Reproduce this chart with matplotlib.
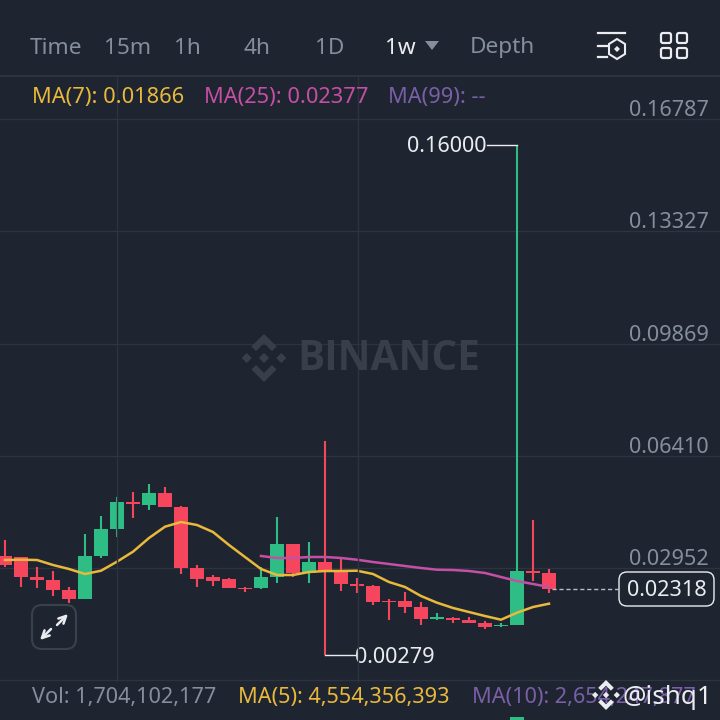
import numpy as np
import matplotlib
matplotlib.use("Agg")
import matplotlib.pyplot as plt
from matplotlib.patches import Polygon, FancyBboxPatch

# weekly candles
opens = [0.03327, 0.03296, 0.02680, 0.02588, 0.02280, 0.02003, 0.03327, 0.04159, 0.04990, 0.04898,
         0.05268, 0.04836, 0.02958, 0.02680, 0.02619, 0.02342, 0.02342, 0.02680, 0.03697, 0.02804,
         0.03142, 0.02865, 0.02465, 0.02403, 0.01941, 0.01941, 0.01756, 0.01387, 0.01418, 0.01356,
         0.01264, 0.01171, 0.01202, 0.02865, 0.02804]
highs = [0.03820, 0.03296, 0.02988, 0.02865, 0.02372, 0.04005, 0.04559, 0.05144, 0.05298, 0.05545,
         0.05452, 0.04867, 0.03050, 0.02742, 0.02650, 0.02372, 0.02988, 0.04528, 0.03697, 0.03758,
         0.06869, 0.03235, 0.02650, 0.02434, 0.02003, 0.02218, 0.01910, 0.01572, 0.01448, 0.01448,
         0.01325, 0.01264, 0.16000, 0.04436, 0.02927]
lows = [0.02988, 0.02372, 0.02342, 0.02095, 0.01879, 0.02003, 0.03266, 0.03912, 0.04498, 0.04744,
        0.04836, 0.02773, 0.02372, 0.02403, 0.02342, 0.02218, 0.02311, 0.02496, 0.02680, 0.02496,
        0.00279, 0.02249, 0.02188, 0.01818, 0.01356, 0.01572, 0.01202, 0.01356, 0.01264, 0.01264,
        0.01079, 0.01140, 0.01202, 0.02557, 0.02188]
closes = [0.03050, 0.02680, 0.02588, 0.02280, 0.02003, 0.03327, 0.04159, 0.04990, 0.04929, 0.05268,
          0.04836, 0.02958, 0.02619, 0.02557, 0.02342, 0.02311, 0.02680, 0.03697, 0.02804, 0.03142,
          0.02865, 0.02465, 0.02403, 0.01910, 0.01910, 0.01756, 0.01387, 0.01448, 0.01356, 0.01264,
          0.01140, 0.01202, 0.02865, 0.02804, 0.02311]

ma7 = [0.03204, 0.03213, 0.03204, 0.03050, 0.02927, 0.02773, 0.02874, 0.03152, 0.03460, 0.03882,
       0.04230, 0.04374, 0.04282, 0.04066, 0.03666, 0.03296, 0.02927, 0.02742, 0.02742, 0.02834,
       0.02865, 0.02865, 0.02874, 0.02773, 0.02526, 0.02372, 0.02095, 0.01889, 0.01726, 0.01602,
       0.01479, 0.01365, 0.01581, 0.01756, 0.01858]
ma25_start = 16
ma25 = [0.03327, 0.03266, 0.03266, 0.03296, 0.03296, 0.03266, 0.03213, 0.03142, 0.03081, 0.03019,
        0.02958, 0.02905, 0.02896, 0.02865, 0.02804, 0.02680, 0.02557, 0.02465, 0.02372]

price_ticks = [0.16787, 0.13327, 0.09869, 0.06410, 0.02952]
price_labels = ["0.16787", "0.13327", "0.09869", "0.06410", "0.02952"]
last_price = 0.02318
max_price = 0.16000
min_price = 0.00279

tabs = ["Time", "15m", "1h", "4h", "1D", "1w", "Depth"]
tab_x = [30, 104, 174, 243, 315, 385, 470]

BG = "#1f2530"
RED = "#f6465d"
GREEN = "#2ebd85"
YELLOW = "#e9b93c"
PINK = "#c64fa6"
PURPLE = "#7a5fa8"
GRID = "#2d333f"
GREY = "#848e9c"
LIGHT = "#eaecef"
FONT = "Noto Sans"

plt.rcParams["font.family"] = FONT

fig = plt.figure(figsize=(7.2, 7.2), dpi=100, facecolor=BG)

# price axes fill the whole figure, 16 px per candle
ax = fig.add_axes([0, 0, 1, 1], facecolor=BG)
ax.set_xlim(-5 / 16, 715 / 16)
ax.set_ylim(-0.01724, 0.20452)
ax.axis("off")

# pixel axes for the app chrome
ui = fig.add_axes([0, 0, 1, 1], facecolor="none")
ui.set_xlim(0, 720)
ui.set_ylim(720, 0)
ui.axis("off")


def logo(axes, cx, cy, r, color, z=6):
    # binance diamond mark
    for dx in (-0.72, 0, 0.72):
        s = 0.21
        axes.add_patch(Polygon([(cx + (dx - s) * r, cy), (cx + dx * r, cy - s * r),
                                (cx + (dx + s) * r, cy), (cx + dx * r, cy + s * r)],
                               fc=color, ec="none", zorder=z))
    for sign in (-1, 1):
        pts = [(0, 1), (0.52, 0.48), (0.33, 0.29), (0, 0.62), (-0.33, 0.29), (-0.52, 0.48)]
        axes.add_patch(Polygon([(cx + a * r, cy + sign * b * r) for a, b in pts],
                               fc=color, ec="none", zorder=z))


# grid
for p in price_ticks:
    ax.axhline(p, color=GRID, lw=1, zorder=1)
ax.axhline(-0.00507, color=GRID, lw=1, zorder=1)
ui.plot([0, 720], [76, 76], color=GRID, lw=1.5, zorder=1)
for x in (116.5, 357.5):
    ui.plot([x, x], [77, 681], color=GRID, lw=1, zorder=1)

# watermark
logo(ui, 264, 358, 24, "#383e4a", z=2)
ui.text(297, 360, "BINANCE", color="#383e4a", fontsize=29.2, fontweight="bold",
        va="center", ha="left", zorder=2, family="Open Sans")

# candles
idx = np.arange(len(opens))
opens_a, closes_a = np.array(opens), np.array(closes)
colors = [GREEN if c >= o else RED for o, c in zip(opens_a, closes_a)]
ax.vlines(idx, lows, highs, colors=colors, lw=1.5, zorder=3)
ax.bar(idx, np.abs(closes_a - opens_a), bottom=np.minimum(opens_a, closes_a),
       width=0.875, color=colors, lw=0, zorder=3)

# moving averages
ax.plot(idx, ma7, color=YELLOW, lw=1.8, zorder=4, solid_joinstyle="round")
ax.plot(idx[ma25_start:], ma25, color=PINK, lw=1.8, zorder=4, solid_joinstyle="round")

# last price
ax.plot([34.2, 38.3], [last_price, last_price], color="#b7bdc6", lw=1, ls=(0, (3, 2)), zorder=4)
ui.add_patch(FancyBboxPatch((619, 572), 95, 34, boxstyle="round,pad=0,rounding_size=8",
                            fc=BG, ec=LIGHT, lw=1, zorder=6))
ui.text(666.5, 591, f"{last_price:.5f}", color=LIGHT, fontsize=15.6, ha="center", va="center", zorder=7)

# high / low callouts
ax.plot([30.15, 32], [max_price, max_price], color=LIGHT, lw=1, zorder=4)
ax.annotate(f"{max_price:.5f}", (30.1, max_price), xytext=(0, -1.5), textcoords="offset points",
            color=LIGHT, fontsize=15.6, ha="right", va="center", zorder=7)
ax.plot([20, 21.85], [min_price, min_price], color=LIGHT, lw=1, zorder=4)
ax.annotate(f"{min_price:.5f}", (21.9, min_price), xytext=(0, -1.5), textcoords="offset points",
            color=LIGHT, fontsize=15.6, ha="left", va="center", zorder=7)

# price labels sit just above their gridline
for p, lab in zip(price_ticks, price_labels):
    ax.annotate(lab, (709 / 720, p), xycoords=("figure fraction", "data"), xytext=(0, -1.5),
                textcoords="offset points", color=GREY, fontsize=15.6, ha="right", va="bottom",
                zorder=5)

# tabs
for name, x in zip(tabs, tab_x):
    active = name == "1w"
    ui.text(x, 48, name, color=LIGHT if active else GREY, fontsize=16.3,
            fontweight="bold" if active else "normal", ha="left", va="center")
ui.add_patch(Polygon([(425, 41), (439, 41), (432, 50)], fc=GREY, ec="none"))

# toolbar icons
ui.plot([598, 625], [33, 33], color=LIGHT, lw=1.6)
ui.plot([598, 607], [46, 46], color=LIGHT, lw=1.6)
ui.plot([598, 607], [57, 57], color=LIGHT, lw=1.6)
ui.add_patch(Polygon([(617, 39), (625, 44), (625, 54), (617, 59), (609, 54), (609, 44)],
                     fc="none", ec=LIGHT, lw=1.5))
ui.add_patch(Polygon([(617, 46), (620, 49), (617, 52), (614, 49)], fc=LIGHT, ec="none"))
for gx in (661, 677):
    for gy in (33, 48):
        ui.add_patch(FancyBboxPatch((gx, gy), 10, 10, boxstyle="round,pad=0,rounding_size=2",
                                    fc="none", ec=LIGHT, lw=1.6))

# MA legend
ui.text(32, 97, "MA(7): 0.01866", color=YELLOW, fontsize=15.7, va="center")
ui.text(204, 97, "MA(25): 0.02377", color=PINK, fontsize=15.7, va="center")
ui.text(388, 97, "MA(99): --", color=PURPLE, fontsize=15.7, va="center")

# expand button
ui.add_patch(FancyBboxPatch((32, 605), 44, 44, boxstyle="round,pad=0,rounding_size=10",
                            fc=BG, ec="#3a404c", lw=1.5, zorder=6))
ui.annotate("", xy=(68, 614), xytext=(57, 625), zorder=7,
            arrowprops=dict(arrowstyle="->", color=LIGHT, lw=1.8, mutation_scale=13, shrinkA=0, shrinkB=0))
ui.annotate("", xy=(40, 640), xytext=(51, 629), zorder=7,
            arrowprops=dict(arrowstyle="->", color=LIGHT, lw=1.8, mutation_scale=13, shrinkA=0, shrinkB=0))

# volume row
ui.text(32, 697, "Vol: 1,704,102,177", color=GREY, fontsize=15.6, va="center")
ui.text(238, 697, "MA(5): 4,554,356,393", color=YELLOW, fontsize=15.6, va="center")
ui.text(472, 697, "MA(10): 2,654,247,877", color=PURPLE, fontsize=15.6, va="center", clip_on=True)
ui.add_patch(Polygon([(510, 717), (524, 717), (524, 720), (510, 720)], fc=GREEN, ec="none"))

# user watermark
logo(ui, 606, 695, 15, LIGHT, z=8)
ui.text(622, 697, "@ishq1", color=LIGHT, fontsize=18.8, va="center", zorder=8)

fig.savefig("out.png", dpi=100, facecolor=BG)
